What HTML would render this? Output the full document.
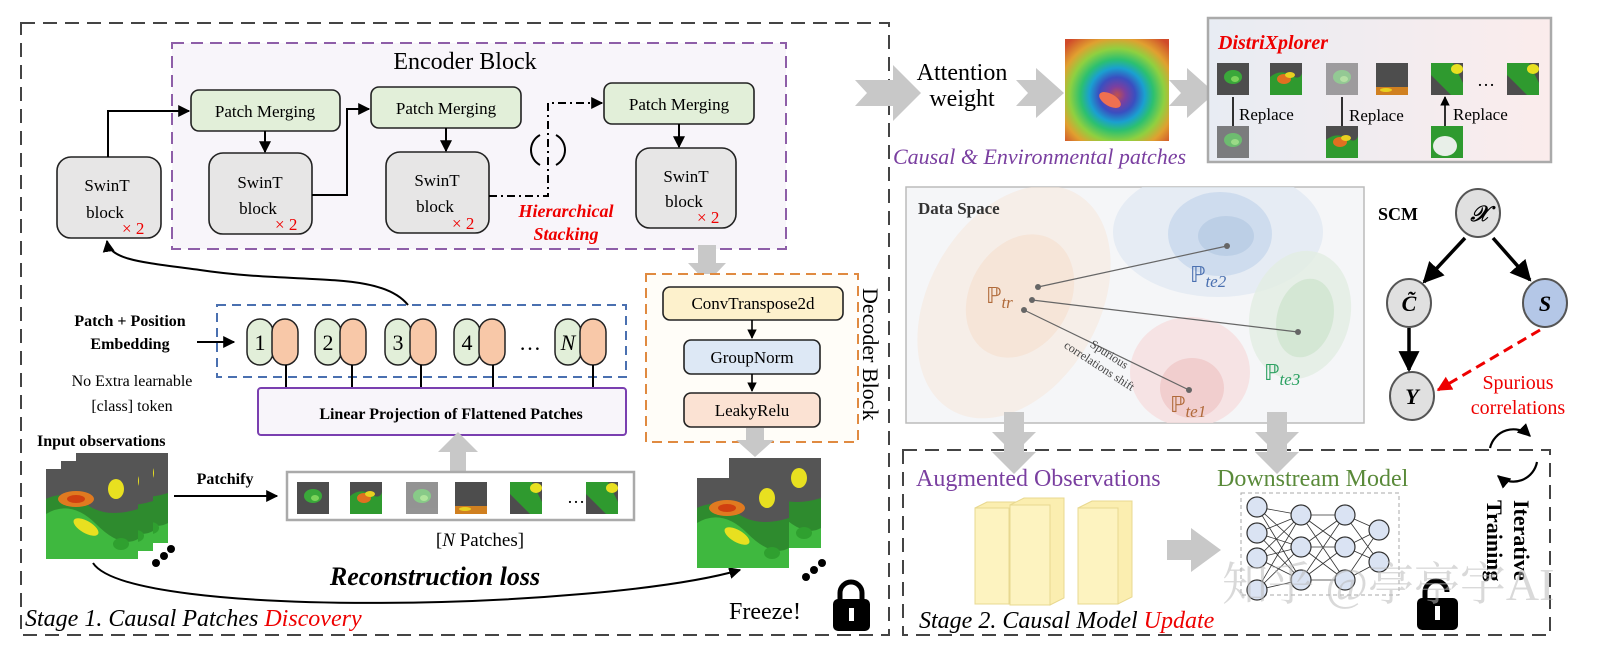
<!DOCTYPE html>
<html><head><meta charset="utf-8"><style>
html,body{margin:0;padding:0;background:#fff}
svg{display:block}
text{font-family:"Liberation Serif","Noto Serif CJK SC",serif}
</style></head><body>
<svg width="1597" height="658" viewBox="0 0 1597 658" xmlns="http://www.w3.org/2000/svg">
<defs>
<marker id="ah" viewBox="0 0 10 10" refX="9" refY="5" markerWidth="6" markerHeight="6" orient="auto"><path d="M0,0L10,5L0,10z" fill="#000"/></marker>
<marker id="ahr" viewBox="0 0 10 10" refX="9" refY="5" markerWidth="5" markerHeight="5" orient="auto"><path d="M0,0L10,5L0,10z" fill="#e00"/></marker>
<clipPath id="dsc"><rect x="906" y="187" width="458" height="236"/></clipPath>
<radialGradient id="hur" cx="0.5" cy="0.55" r="0.7">
<stop offset="0" stop-color="#c0504d"/><stop offset="0.12" stop-color="#7b3fa0"/><stop offset="0.25" stop-color="#3a4fc0"/><stop offset="0.38" stop-color="#1aa0d0"/><stop offset="0.5" stop-color="#2cc070"/><stop offset="0.65" stop-color="#8fd040"/><stop offset="0.8" stop-color="#e0a030"/><stop offset="1" stop-color="#d04a2a"/></radialGradient>
<linearGradient id="dx" x1="0" x2="1"><stop offset="0" stop-color="#e8ecf3"/><stop offset="1" stop-color="#fbecec"/></linearGradient>
<g id="rad">
<rect width="32" height="32" fill="#4d4d4d"/><ellipse cx="16" cy="14" rx="9" ry="7" fill="#3aa83a"/><ellipse cx="18" cy="16" rx="4" ry="3" fill="#7bd35a"/></g>
<g id="rad2"><rect width="32" height="32" fill="#4d4d4d"/><path d="M0,14 Q10,6 20,12 T32,10 V32 H0z" fill="#2f9a2f"/><ellipse cx="14" cy="16" rx="7" ry="5" fill="#e07020"/><ellipse cx="20" cy="12" rx="5" ry="3" fill="#e8d020"/></g>
<g id="rad3"><rect width="32" height="32" fill="#4d4d4d"/><path d="M0,0 H22 L32,20 V32 H20 L0,12z" fill="#2f9a2f"/><ellipse cx="26" cy="6" rx="6" ry="5" fill="#e8e020"/></g>
<g id="rad4"><rect width="32" height="32" fill="#4d4d4d"/><rect x="0" y="24" width="32" height="8" fill="#d08020"/><ellipse cx="10" cy="27" rx="6" ry="2" fill="#e8d020"/></g>
<g id="big">
<rect width="92" height="90" fill="#555"/>
<path d="M0,30 Q20,20 40,35 T92,40 V90 H0z" fill="#2e8b2e"/>
<path d="M0,45 Q25,30 50,55 T92,70 V90 H0z" fill="#3fb83f"/>
<ellipse cx="30" cy="30" rx="18" ry="8" fill="#e07a20"/><ellipse cx="30" cy="30" rx="9" ry="4" fill="#d04010"/>
<ellipse cx="40" cy="58" rx="14" ry="6" fill="#e8e020" transform="rotate(30 40 58)"/>
<ellipse cx="70" cy="20" rx="8" ry="10" fill="#e8e020"/>
<ellipse cx="75" cy="75" rx="8" ry="6" fill="#2fa02f"/>
</g>
</defs>

<rect x="21" y="23" width="868" height="612" fill="#fff" stroke="#444" stroke-width="2" stroke-dasharray="14,8"/>
<rect x="172" y="43" width="614" height="206" fill="#f8f5fa" stroke="#8e5ea8" stroke-width="2" stroke-dasharray="12,7"/>
<text x="465" y="69" font-size="24" text-anchor="middle">Encoder Block</text>

<g stroke="#222" stroke-width="1.6">
<rect x="191" y="90" width="149" height="41" rx="8" fill="#e2efd9"/>
<rect x="371" y="87" width="150" height="41" rx="8" fill="#e2efd9"/>
<rect x="604" y="83" width="150" height="41" rx="8" fill="#e2efd9"/>
<rect x="57" y="157" width="104" height="81" rx="14" fill="#e7e6e6"/>
<rect x="209" y="153" width="103" height="81" rx="14" fill="#e7e6e6"/>
<rect x="386" y="152" width="103" height="81" rx="14" fill="#e7e6e6"/>
<rect x="636" y="148" width="100" height="80" rx="14" fill="#e7e6e6"/>
</g>
<g font-size="17" text-anchor="middle">
<text x="265" y="117">Patch Merging</text>
<text x="446" y="114">Patch Merging</text>
<text x="679" y="110">Patch Merging</text>
<text x="107" y="191">SwinT</text><text x="105" y="218">block</text>
<text x="260" y="188">SwinT</text><text x="258" y="214">block</text>
<text x="437" y="186">SwinT</text><text x="435" y="212">block</text>
<text x="686" y="182">SwinT</text><text x="684" y="207">block</text>
</g>
<g font-size="17" fill="#e00">
<text x="122" y="234">× 2</text><text x="275" y="230">× 2</text><text x="452" y="229">× 2</text><text x="697" y="223">× 2</text>
</g>
<g stroke="#000" stroke-width="2" fill="none">
<path d="M108,157 V111 H189" marker-end="url(#ah)"/>
<path d="M312,195 H347 V109 H369" marker-end="url(#ah)"/>
<path d="M265,131 V152" marker-end="url(#ah)"/>
<path d="M446,128 V151" marker-end="url(#ah)"/>
<path d="M679,124 V147" marker-end="url(#ah)"/>
<path d="M489,196 H548 V103 H602" stroke-dasharray="8,4,2,4" marker-end="url(#ah)"/>
<path d="M540,135 A17,17 0 0 0 540,165" />
<path d="M556,135 A17,17 0 0 1 556,165" />
<path d="M408,305 C380,270 300,285 200,270 C140,262 110,260 107,241" marker-end="url(#ah)"/>
</g>
<g font-size="18" fill="#e00" font-weight="bold" font-style="italic" text-anchor="middle">
<text x="566" y="217">Hierarchical</text><text x="566" y="240">Stacking</text>
</g>

<path d="M698,245 h18 v18 h10 l-19,20 l-19,-20 h10z" fill="#c8c8c8"/>

<rect x="646" y="274" width="212" height="168" fill="#fffdf8" stroke="#e08a40" stroke-width="2" stroke-dasharray="10,6"/>
<g stroke="#222" stroke-width="1.6">
<rect x="663" y="287" width="180" height="33" rx="7" fill="#fdf1cc"/>
<rect x="684" y="340" width="136" height="34" rx="7" fill="#dde8f5"/>
<rect x="684" y="393" width="136" height="34" rx="7" fill="#fbe2d3"/>
</g>
<g stroke="#000" stroke-width="1.6"><path d="M752,320 V338" marker-end="url(#ah)"/><path d="M752,374 V391" marker-end="url(#ah)"/></g>
<g font-size="17" text-anchor="middle"><text x="753" y="309">ConvTranspose2d</text><text x="752" y="363">GroupNorm</text><text x="752" y="416">LeakyRelu</text></g>
<text x="0" y="0" font-size="22" transform="translate(863,288) rotate(90)">Decoder Block</text>

<rect x="217" y="305" width="409" height="72" fill="none" stroke="#4a70b0" stroke-width="2" stroke-dasharray="9,6"/>
<g font-size="16" font-weight="bold" text-anchor="middle"><text x="130" y="326">Patch + Position</text><text x="130" y="349">Embedding</text></g>
<path d="M197,342 H234" stroke="#000" stroke-width="2" marker-end="url(#ah)"/>
<g font-size="16" text-anchor="middle"><text x="132" y="386">No Extra learnable</text><text x="132" y="411">[class] token</text></g>
<g stroke="#222" stroke-width="1.5">
<rect x="247" y="319" width="26" height="46" rx="13" fill="#e2efd9"/><rect x="272" y="319" width="26" height="46" rx="13" fill="#f8c8a8"/>
<rect x="315" y="319" width="26" height="46" rx="13" fill="#e2efd9"/><rect x="340" y="319" width="26" height="46" rx="13" fill="#f8c8a8"/>
<rect x="385" y="319" width="26" height="46" rx="13" fill="#e2efd9"/><rect x="410" y="319" width="26" height="46" rx="13" fill="#f8c8a8"/>
<rect x="454" y="319" width="26" height="46" rx="13" fill="#e2efd9"/><rect x="479" y="319" width="26" height="46" rx="13" fill="#f8c8a8"/>
<rect x="555" y="319" width="26" height="46" rx="13" fill="#e2efd9"/><rect x="580" y="319" width="26" height="46" rx="13" fill="#f8c8a8"/>
</g>
<g font-size="22" text-anchor="middle"><text x="260" y="350">1</text><text x="328" y="350">2</text><text x="398" y="350">3</text><text x="467" y="350">4</text><text x="568" y="350" font-style="italic">N</text><text x="530" y="350">…</text></g>
<g stroke="#000" stroke-width="2"><path d="M286,365V388M352,365V388M421,365V388M493,365V388M593,365V388"/></g>
<rect x="258" y="388" width="368" height="47" rx="3" fill="#f8f5fa" stroke="#7a3fb0" stroke-width="2"/>
<text x="451" y="419" font-size="16" font-weight="bold" text-anchor="middle">Linear Projection of Flattened Patches</text>

<path d="M450,472 v-20 h-12 l20,-20 l20,20 h-12 v20z" fill="#c8c8c8"/>

<text x="37" y="446" font-size="16" font-weight="bold">Input observations</text>
<use href="#big" x="76" y="453"/><use href="#big" x="61" y="461"/><use href="#big" x="46" y="469"/>
<circle cx="156" cy="563" r="4"/><circle cx="164" cy="556" r="4"/><circle cx="171" cy="549" r="4"/>
<text x="225" y="484" font-size="16" font-weight="bold" text-anchor="middle">Patchify</text>
<path d="M174,496 H277" stroke="#000" stroke-width="2" marker-end="url(#ah)"/>
<rect x="287" y="472" width="347" height="48" fill="#fff" stroke="#aaa" stroke-width="2.5"/>
<use href="#rad" x="297" y="482"/><use href="#rad2" x="350" y="482"/><use href="#rad" x="406" y="482" opacity="0.6"/><use href="#rad4" x="455" y="482"/><use href="#rad3" x="510" y="482"/><use href="#rad3" x="586" y="482"/>
<text x="567" y="503" font-size="18">…</text>
<text x="480" y="546" font-size="19" text-anchor="middle">[<tspan font-style="italic">N</tspan> Patches]</text>
<path d="M93,563 C130,620 600,610 740,570" stroke="#000" stroke-width="2" fill="none" marker-end="url(#ah)"/>
<text x="435" y="585" font-size="26" font-weight="bold" font-style="italic" text-anchor="middle">Reconstruction loss</text>
<text x="25" y="626" font-size="24" font-style="italic">Stage 1. Causal Patches <tspan fill="#e00">Discovery</tspan></text>

<path d="M746,428 h18 v12 h10 l-19,17 l-19,-17 h10z" fill="#c8c8c8"/>
<use href="#big" x="729" y="458"/><use href="#big" x="697" y="478"/>
<circle cx="806" cy="577" r="4"/><circle cx="814" cy="570" r="4"/><circle cx="822" cy="563" r="4"/>
<text x="729" y="619" font-size="24">Freeze!</text>
<path d="M840,601 v-8 a11,11 0 0 1 22,0 v8" fill="none" stroke="#000" stroke-width="5"/>
<rect x="833" y="599" width="37" height="32" rx="5" fill="#000"/><rect x="849" y="608" width="5" height="13" fill="#fff"/>

<g fill="#c8c8c8">
<path d="M855,80 h38 v-15 l28,28 l-28,28 v-15 h-38 l12,-13z"/>
<path d="M1016,80 h20 v-12 l28,25 l-28,25 v-12 h-20 l12,-13z"/>
<path d="M1169,80 h18 v-12 l28,25 l-28,25 v-12 h-18 l12,-13z"/>
</g>
<g font-size="24" text-anchor="middle"><text x="962" y="80">Attention</text><text x="962" y="106">weight</text></g>
<rect x="1065" y="39" width="104" height="102" fill="url(#hur)"/>
<ellipse cx="1110" cy="100" rx="12" ry="6" fill="#f07050" transform="rotate(30 1110 100)"/>
<text x="893" y="164" font-size="22" font-style="italic" fill="#7a3fa0">Causal &amp; Environmental patches</text>
<rect x="1208" y="18" width="343" height="144" fill="url(#dx)" stroke="#aaa" stroke-width="2.5"/>
<text x="1218" y="49" font-size="20" font-weight="bold" font-style="italic" fill="#e00">DistriXplorer</text>
<use href="#rad" x="1217" y="63"/><use href="#rad2" x="1270" y="63"/><use href="#rad" x="1326" y="63" opacity="0.5"/><use href="#rad4" x="1376" y="63"/><use href="#rad3" x="1431" y="63"/><use href="#rad3" x="1507" y="63"/>
<text x="1477" y="86" font-size="18">…</text>
<use href="#rad" x="1217" y="126" opacity="0.7"/><use href="#rad2" x="1326" y="126"/>
<g transform="translate(1431,126)"><rect width="32" height="32" fill="#2f9a2f"/><ellipse cx="14" cy="20" rx="12" ry="10" fill="#e8efe8"/></g>
<g stroke="#000" stroke-width="1.6"><path d="M1233,126V97M1342,126V97M1445,126V97" marker-end="url(#ah)"/></g>
<g font-size="17"><text x="1239" y="120">Replace</text><text x="1349" y="121">Replace</text><text x="1453" y="120">Replace</text></g>

<rect x="906" y="187" width="458" height="236" fill="#f5f6f8" stroke="#bbb" stroke-width="1.5"/>
<g clip-path="url(#dsc)">
<ellipse cx="1014" cy="302" rx="85" ry="125" fill="#f8e6d8" opacity="0.5" transform="rotate(30 1014 302)"/>
<ellipse cx="1020" cy="296" rx="50" ry="65" fill="#f6dcc8" opacity="0.5" transform="rotate(30 1020 296)"/>
<ellipse cx="1218" cy="232" rx="105" ry="65" fill="#e0e8f2" opacity="0.7"/>
<ellipse cx="1220" cy="234" rx="52" ry="42" fill="#c8d8ec" opacity="0.8"/>
<ellipse cx="1226" cy="236" rx="28" ry="20" fill="#b8cce4" opacity="0.8"/>
<ellipse cx="1300" cy="315" rx="50" ry="65" fill="#e2eee2" opacity="0.8" transform="rotate(15 1300 315)"/>
<ellipse cx="1305" cy="318" rx="28" ry="40" fill="#cfe5cf" opacity="0.8" transform="rotate(15 1305 318)"/>
<ellipse cx="1190" cy="372" rx="60" ry="55" fill="#f6dede" opacity="0.8"/>
<ellipse cx="1192" cy="388" rx="32" ry="30" fill="#f0c8c8" opacity="0.8"/>
</g>
<text x="918" y="214" font-size="17" font-weight="bold" fill="#333">Data Space</text>
<g stroke="#666" stroke-width="1.2"><path d="M1038,287L1227,246M1032,300L1298,332M1024,310L1189,390"/></g>
<g fill="#666"><circle cx="1038" cy="287" r="3"/><circle cx="1032" cy="300" r="3"/><circle cx="1024" cy="310" r="3"/><circle cx="1227" cy="246" r="3"/><circle cx="1298" cy="332" r="3"/><circle cx="1189" cy="390" r="3"/></g>
<text x="986" y="303" font-size="22" fill="#b06a3a">ℙ<tspan font-style="italic" font-size="17" dy="5">tr</tspan></text>
<text x="1190" y="282" font-size="22" fill="#4a70b0">ℙ<tspan font-style="italic" font-size="17" dy="5">te2</tspan></text>
<text x="1264" y="380" font-size="22" fill="#2aa060">ℙ<tspan font-style="italic" font-size="17" dy="5">te3</tspan></text>
<text x="1170" y="412" font-size="22" fill="#b06a3a">ℙ<tspan font-style="italic" font-size="17" dy="5">te1</tspan></text>
<g font-size="12" fill="#444" text-anchor="middle" transform="rotate(33 1100 365)"><text x="1102" y="355">Spurious</text><text x="1100" y="370">correlations shift</text></g>

<text x="1378" y="220" font-size="18" font-weight="bold">SCM</text>
<g stroke="#555" stroke-width="2">
<ellipse cx="1478" cy="213" rx="22" ry="24" fill="#e0e0e0"/>
<ellipse cx="1409" cy="303" rx="22" ry="24" fill="#e0e0e0"/>
<ellipse cx="1545" cy="303" rx="22" ry="24" fill="#b4c7e7"/>
<ellipse cx="1412" cy="396" rx="22" ry="24" fill="#e0e0e0"/>
</g>
<g font-size="22" font-weight="bold" font-style="italic" text-anchor="middle"><text x="1480" y="221">𝒳</text><text x="1409" y="311">C̃</text><text x="1545" y="311">S</text><text x="1412" y="404">Y</text></g>
<g stroke="#000" stroke-width="3.5" fill="none"><path d="M1465,238L1424,282" marker-end="url(#ah)"/><path d="M1493,238L1530,280" marker-end="url(#ah)"/><path d="M1409,328V370" marker-end="url(#ah)"/></g>
<path d="M1540,330L1438,390" stroke="#e00" stroke-width="3" stroke-dasharray="10,6" fill="none" marker-end="url(#ahr)"/>
<g font-size="20" fill="#e00" text-anchor="middle"><text x="1518" y="389">Spurious</text><text x="1518" y="414">correlations</text></g>

<path d="M1004,412 h20 v20 h12 l-22,22 l-22,-22 h12z" fill="#c8c8c8"/>
<path d="M1267,412 h20 v20 h12 l-22,22 l-22,-22 h12z" fill="#c8c8c8"/>

<rect x="903" y="450" width="647" height="185" fill="none" stroke="#444" stroke-width="2" stroke-dasharray="14,8"/>
<path d="M1004,440 h20 v12 h12 l-22,22 l-22,-22 h12z" fill="#c8c8c8"/>
<path d="M1267,440 h20 v12 h12 l-22,22 l-22,-22 h12z" fill="#c8c8c8"/>
<text x="916" y="486" font-size="24" fill="#7a3fa0">Augmented Observations</text>
<text x="1217" y="486" font-size="24" fill="#5a8a3a">Downstream Model</text>
<g stroke="#e8d890" stroke-width="1">
<path d="M975,508 l12,-6 h34 v96 l-12,6z" fill="#fbeeb0"/><rect x="975" y="508" width="34" height="96" fill="#fdf3c0"/>
<path d="M1010,505 l14,-7 h40 v100 l-14,7z" fill="#fbeeb0"/><rect x="1010" y="505" width="40" height="100" fill="#fdf3c0"/>
<path d="M1078,508 l14,-7 h40 v96 l-14,7z" fill="#fbeeb0"/><rect x="1078" y="508" width="40" height="96" fill="#fdf3c0"/>
</g>
<path d="M1167,540 h24 v-12 l30,22 l-30,22 v-12 h-24z" fill="#c8c8c8"/>
<rect x="1241" y="493" width="158" height="102" fill="none" stroke="#aaa" stroke-dasharray="4,3"/>
<g stroke="#333" stroke-width="0.8">
<path d="M1257,507L1301,515M1257,507L1301,547M1257,507L1301,580M1257,533L1301,515M1257,533L1301,547M1257,533L1301,580M1257,558L1301,515M1257,558L1301,547M1257,558L1301,580M1257,590L1301,515M1257,590L1301,547M1257,590L1301,580"/>
<path d="M1301,515L1345,515M1301,515L1345,547M1301,515L1345,580M1301,547L1345,515M1301,547L1345,547M1301,547L1345,580M1301,580L1345,515M1301,580L1345,547M1301,580L1345,580"/>
<path d="M1345,515L1379,530M1345,515L1379,562M1345,547L1379,530M1345,547L1379,562M1345,580L1379,530M1345,580L1379,562"/>
</g>
<g fill="#dae3f3" stroke="#333" stroke-width="1.2">
<circle cx="1257" cy="507" r="10"/><circle cx="1257" cy="533" r="10"/><circle cx="1257" cy="558" r="10"/><circle cx="1257" cy="590" r="10"/>
<circle cx="1301" cy="515" r="10"/><circle cx="1301" cy="547" r="10"/><circle cx="1301" cy="580" r="10"/>
<circle cx="1345" cy="515" r="10"/><circle cx="1345" cy="547" r="10"/><circle cx="1345" cy="580" r="10"/>
<circle cx="1379" cy="530" r="10"/><circle cx="1379" cy="562" r="10"/>
</g>
<g stroke="#000" stroke-width="2.2" fill="none">
<path d="M1490,448 A24,24 0 0 1 1530,436" marker-end="url(#ah)"/>
<path d="M1537,462 A24,24 0 0 1 1498,476" marker-end="url(#ah)"/>
</g>
<g font-size="22" font-weight="bold"><text transform="translate(1514,500) rotate(90)">Iterative</text><text transform="translate(1487,500) rotate(90)">Training</text></g>
<path d="M1425,600 v-8 a11,11 0 0 1 22,0" fill="none" stroke="#000" stroke-width="5"/>
<rect x="1417" y="598" width="41" height="32" rx="5" fill="#000"/><rect x="1435" y="606" width="5" height="14" fill="#fff"/>
<text x="919" y="628" font-size="24" font-style="italic">Stage 2. Causal Model <tspan fill="#e00">Update</tspan></text>
<text x="1222" y="600" font-size="46" fill="#bbb" opacity="0.55" font-family="Noto Sans CJK SC, sans-serif">知乎 @亭亭字AI</text>
</svg>
</body></html>
